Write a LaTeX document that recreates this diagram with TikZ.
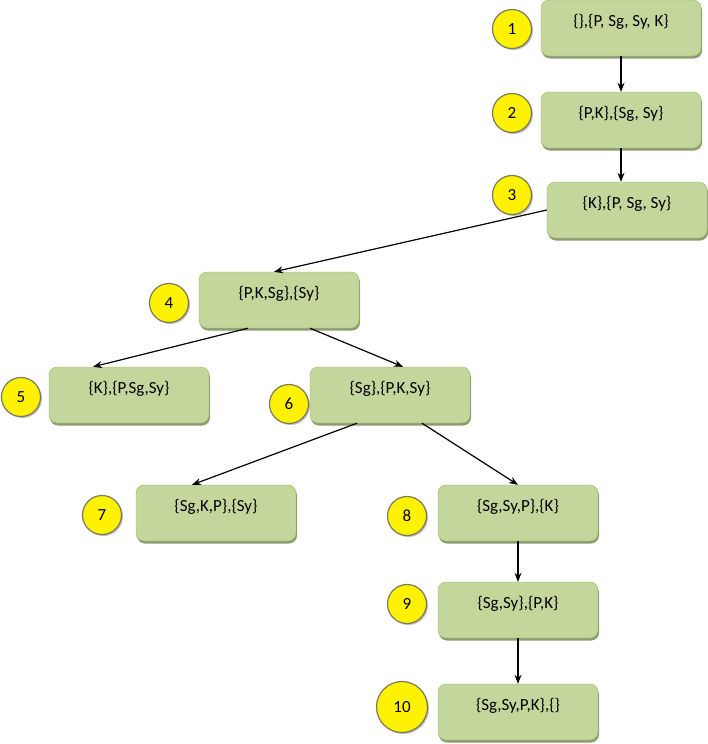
\documentclass[tikz,border=0pt]{standalone}
\usepackage{fontspec}
\setmainfont{Carlito}
\usetikzlibrary{arrows.meta,shadows,calc,positioning}
\definecolor{boxgreen}{HTML}{C3D69B}
\definecolor{boxline}{HTML}{9BBB59}
\definecolor{ringgray}{HTML}{7A7A5A}

\begin{document}
\begin{tikzpicture}[x=1pt,y=-1pt,font=\fontsize{17}{20}\selectfont]
\tikzstyle{state}=[rectangle,rounded corners=8pt,draw=boxline,fill=boxgreen,
  minimum width=160pt,inner xsep=0pt,inner ysep=14pt,text height=12pt,text depth=16pt,
  drop shadow={shadow xshift=1pt,shadow yshift=-2.5pt,fill=boxline!60!black,opacity=0.7}]
\tikzstyle{step no}=[circle,draw=ringgray,line width=1.2pt,fill=yellow,minimum size=39pt,inner sep=0pt,
  drop shadow={shadow xshift=1.5pt,shadow yshift=-1.5pt,fill=black,opacity=0.25}]
\tikzstyle{move}=[-{Stealth[length=9pt,width=7pt]},line width=1.2pt]

\useasboundingbox (0,0) rectangle (707,744);

% states
\node[state] (s1) at (621,28) {\{\},\{P, Sg, Sy, K\}};
\node[state] (s2) at (621,120) {\{P,K\},\{Sg, Sy\}};
\node[state] (s3) at (627,210) {\{K\},\{P, Sg, Sy\}};
\node[state] (s4) at (279,300) {\{P,K,Sg\},\{Sy\}};
\node[state] (s5) at (129,395) {\{K\},\{P,Sg,Sy\}};
\node[state] (s6) at (390,395) {\{Sg\},\{P,K,Sy\}};
\node[state] (s7) at (216,513) {\{Sg,K,P\},\{Sy\}};
\node[state] (s8) at (518,513) {\{Sg,Sy,P\},\{K\}};
\node[state] (s9) at (518,610) {\{Sg,Sy\},\{P,K\}};
\node[state] (s10) at (518,712) {\{Sg,Sy,P,K\},\{\}};

% step numbers
\node[step no] (n1) at (512,29) {1};
\node[step no] (n2) at (512,113) {2};
\node[step no] (n3) at (512,195) {3};
\node[step no] (n4) at (169,303) {4};
\node[step no] (n5) at (21,397) {5};
\node[step no] (n6) at (289,404) {6};
\node[step no] (n7) at (102,515) {7};
\node[step no] (n8) at (407,516) {8};
\node[step no] (n9) at (407,604) {9};
\node[step no,minimum size=51pt] (n10) at (402,707) {10};

% moves
\draw[move] (s1.south) -- (s2.north);
\draw[move] (s2.south) -- (s2.south |- s3.north);
\draw[move] (s3.west) -- ([xshift=-5pt]s4.north);
\draw[move] ([xshift=-31pt]s4.south) -- ([xshift=-36pt]s5.north);
\draw[move] ([xshift=31pt]s4.south) -- ([xshift=13pt]s6.north);
\draw[move] ([xshift=-33pt]s6.south) -- ([xshift=-24pt]s7.north);
\draw[move] ([xshift=32pt]s6.south) -- (s8.north);
\draw[move] (s8.south) -- (s9.north);
\draw[move] (s9.south) -- (s10.north);
\end{tikzpicture}
\end{document}
